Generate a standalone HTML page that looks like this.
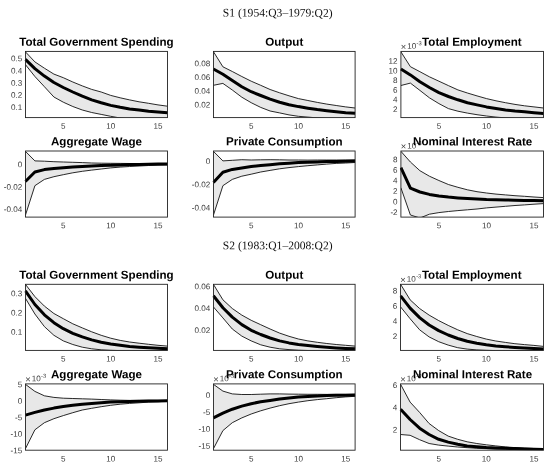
<!DOCTYPE html>
<html><head><meta charset="utf-8"><title>Impulse responses</title>
<style>
html,body{margin:0;padding:0;background:#fff;}
body{width:550px;height:468px;overflow:hidden;}
svg{display:block;}
.tt{font-family:"Liberation Sans",Arial,Helvetica,sans-serif;font-weight:bold;font-size:11.6px;fill:#000;text-anchor:middle;}
.tk{font-family:"Liberation Sans",Arial,Helvetica,sans-serif;font-size:8.1px;fill:#3a3a3a;}
.yl{text-anchor:end;}
.xl{text-anchor:middle;}
.st{font-family:"Liberation Serif","DejaVu Serif",serif;font-size:11.6px;fill:#111;text-anchor:middle;}
.bd{fill:#e8e8e8;stroke:none;}
.ln{fill:none;stroke:#111;stroke-width:0.9;stroke-linejoin:round;}
.md{fill:none;stroke:#000;stroke-width:3.0;stroke-linejoin:round;stroke-linecap:butt;}
.bx{fill:none;stroke:#222;stroke-width:0.9;}
</style></head><body>
<svg width="550" height="468" viewBox="0 0 550 468">
<rect x="0" y="0" width="550" height="468" fill="#fff"/>
<text class="st" transform="translate(277.7,16.6) rotate(0.05)">S1 (1954:Q3–1979:Q2)</text>
<text class="st" transform="translate(277.7,249.3) rotate(0.05)">S2 (1983:Q1–2008:Q2)</text>
<defs>
<clipPath id="c0"><rect x="25.45" y="51.4" width="142.05" height="66.2"/></clipPath>
<clipPath id="d0"><rect x="24.45" y="51.4" width="144.05" height="66.2"/></clipPath>
<clipPath id="c1"><rect x="213.45" y="51.4" width="141.65" height="66.2"/></clipPath>
<clipPath id="d1"><rect x="212.45" y="51.4" width="143.65" height="66.2"/></clipPath>
<clipPath id="c2"><rect x="400.9" y="51.4" width="142.6" height="66.2"/></clipPath>
<clipPath id="d2"><rect x="399.9" y="51.4" width="144.6" height="66.2"/></clipPath>
<clipPath id="c3"><rect x="25.45" y="151.0" width="142.05" height="66.1"/></clipPath>
<clipPath id="d3"><rect x="24.45" y="151.0" width="144.05" height="66.1"/></clipPath>
<clipPath id="c4"><rect x="213.45" y="151.0" width="141.65" height="66.1"/></clipPath>
<clipPath id="d4"><rect x="212.45" y="151.0" width="143.65" height="66.1"/></clipPath>
<clipPath id="c5"><rect x="400.9" y="151.0" width="142.6" height="66.1"/></clipPath>
<clipPath id="d5"><rect x="399.9" y="151.0" width="144.6" height="66.1"/></clipPath>
<clipPath id="c6"><rect x="25.45" y="284.3" width="142.05" height="66.1"/></clipPath>
<clipPath id="d6"><rect x="24.45" y="284.3" width="144.05" height="66.1"/></clipPath>
<clipPath id="c7"><rect x="213.45" y="284.3" width="141.65" height="66.1"/></clipPath>
<clipPath id="d7"><rect x="212.45" y="284.3" width="143.65" height="66.1"/></clipPath>
<clipPath id="c8"><rect x="400.55" y="284.3" width="142.9" height="66.1"/></clipPath>
<clipPath id="d8"><rect x="399.55" y="284.3" width="144.9" height="66.1"/></clipPath>
<clipPath id="c9"><rect x="25.45" y="383.9" width="142.05" height="66.3"/></clipPath>
<clipPath id="d9"><rect x="24.45" y="383.9" width="144.05" height="66.3"/></clipPath>
<clipPath id="c10"><rect x="213.45" y="383.9" width="141.65" height="66.3"/></clipPath>
<clipPath id="d10"><rect x="212.45" y="383.9" width="143.65" height="66.3"/></clipPath>
<clipPath id="c11"><rect x="400.55" y="383.9" width="142.9" height="66.3"/></clipPath>
<clipPath id="d11"><rect x="399.55" y="383.9" width="144.9" height="66.3"/></clipPath>
</defs>
<g clip-path="url(#c0)">
<polygon class="bd" points="25.4,51.8 34.9,61.9 44.4,68.2 53.9,74.1 63.3,77.7 72.8,82.0 82.3,85.9 91.7,89.4 101.2,92.0 110.7,95.4 120.2,97.8 129.6,99.9 139.1,101.8 148.6,103.3 158.0,104.9 167.5,106.2 167.5,119.5 158.0,119.5 148.6,119.5 139.1,119.5 129.6,119.0 120.2,118.0 110.7,116.3 101.2,114.4 91.7,112.5 82.3,110.0 72.8,106.5 63.3,102.2 53.9,97.0 44.4,86.7 34.9,76.5 25.4,64.6"/>
<polyline class="ln" points="25.4,51.8 34.9,61.9 44.4,68.2 53.9,74.1 63.3,77.7 72.8,82.0 82.3,85.9 91.7,89.4 101.2,92.0 110.7,95.4 120.2,97.8 129.6,99.9 139.1,101.8 148.6,103.3 158.0,104.9 167.5,106.2"/>
<polyline class="ln" points="25.4,64.6 34.9,76.5 44.4,86.7 53.9,97.0 63.3,102.2 72.8,106.5 82.3,110.0 91.7,112.5 101.2,114.4 110.7,116.3 120.2,118.0 129.6,119.0 139.1,119.5 148.6,119.5 158.0,119.5 167.5,119.5"/>
</g>
<g clip-path="url(#d0)"><polyline class="md" points="25.4,59.4 34.9,68.6 44.4,76.1 53.9,82.5 63.3,87.5 72.8,92.0 82.3,96.2 91.7,99.9 101.2,102.8 110.7,105.4 120.2,107.3 129.6,108.9 139.1,110.1 148.6,111.2 158.0,112.0 167.5,112.8"/></g>
<rect class="bx" x="25.45" y="51.4" width="142.05" height="66.2"/>
<text class="tt" transform="translate(96.48,45.80) rotate(0.05)">Total Government Spending</text>
<text class="tk xl" transform="translate(63.33,128.80) rotate(0.05)">5</text>
<text class="tk xl" transform="translate(110.68,128.80) rotate(0.05)">10</text>
<text class="tk xl" transform="translate(158.03,128.80) rotate(0.05)">15</text>
<text class="tk yl" transform="translate(22.15,61.25) rotate(0.05)">0.5</text>
<text class="tk yl" transform="translate(22.15,73.55) rotate(0.05)">0.4</text>
<text class="tk yl" transform="translate(22.15,85.65) rotate(0.05)">0.3</text>
<text class="tk yl" transform="translate(22.15,97.85) rotate(0.05)">0.2</text>
<text class="tk yl" transform="translate(22.15,110.05) rotate(0.05)">0.1</text>
<g clip-path="url(#c1)">
<polygon class="bd" points="213.4,51.6 222.9,66.8 232.3,71.5 241.8,76.5 251.2,81.2 260.7,85.3 270.1,89.5 279.6,92.8 289.0,95.8 298.4,98.6 307.9,100.5 317.3,102.4 326.8,104.1 336.2,105.5 345.7,106.9 355.1,108.0 355.1,119.0 345.7,119.0 336.2,118.7 326.8,118.5 317.3,117.9 307.9,117.1 298.4,116.3 289.0,114.9 279.6,112.9 270.1,111.0 260.7,107.4 251.2,102.7 241.8,97.2 232.3,90.0 222.9,83.4 213.4,85.3"/>
<polyline class="ln" points="213.4,51.6 222.9,66.8 232.3,71.5 241.8,76.5 251.2,81.2 260.7,85.3 270.1,89.5 279.6,92.8 289.0,95.8 298.4,98.6 307.9,100.5 317.3,102.4 326.8,104.1 336.2,105.5 345.7,106.9 355.1,108.0"/>
<polyline class="ln" points="213.4,85.3 222.9,83.4 232.3,90.0 241.8,97.2 251.2,102.7 260.7,107.4 270.1,111.0 279.6,112.9 289.0,114.9 298.4,116.3 307.9,117.1 317.3,117.9 326.8,118.5 336.2,118.7 345.7,119.0 355.1,119.0"/>
</g>
<g clip-path="url(#d1)"><polyline class="md" points="213.4,69.0 222.9,74.3 232.3,80.6 241.8,86.7 251.2,91.7 260.7,95.5 270.1,99.1 279.6,102.2 289.0,104.7 298.4,106.6 307.9,108.2 317.3,109.6 326.8,110.7 336.2,111.8 345.7,112.7 355.1,113.2"/></g>
<rect class="bx" x="213.45" y="51.4" width="141.65" height="66.2"/>
<text class="tt" transform="translate(284.27,45.80) rotate(0.05)">Output</text>
<text class="tk xl" transform="translate(251.22,128.80) rotate(0.05)">5</text>
<text class="tk xl" transform="translate(298.44,128.80) rotate(0.05)">10</text>
<text class="tk xl" transform="translate(345.66,128.80) rotate(0.05)">15</text>
<text class="tk yl" transform="translate(210.15,66.25) rotate(0.05)">0.08</text>
<text class="tk yl" transform="translate(210.15,80.05) rotate(0.05)">0.06</text>
<text class="tk yl" transform="translate(210.15,93.75) rotate(0.05)">0.04</text>
<text class="tk yl" transform="translate(210.15,107.55) rotate(0.05)">0.02</text>
<g clip-path="url(#c2)">
<polygon class="bd" points="400.9,51.8 410.4,66.7 419.9,71.7 429.4,76.8 438.9,81.2 448.4,85.6 457.9,89.9 467.4,93.0 477.0,95.9 486.5,98.6 496.0,100.8 505.5,102.7 515.0,104.4 524.5,105.8 534.0,106.9 543.5,108.0 543.5,119.0 534.0,119.0 524.5,118.7 515.0,118.5 505.5,117.9 496.0,117.1 486.5,116.0 477.0,114.7 467.4,113.1 457.9,111.2 448.4,108.6 438.9,103.6 429.4,97.8 419.9,90.4 410.4,83.1 400.9,85.5"/>
<polyline class="ln" points="400.9,51.8 410.4,66.7 419.9,71.7 429.4,76.8 438.9,81.2 448.4,85.6 457.9,89.9 467.4,93.0 477.0,95.9 486.5,98.6 496.0,100.8 505.5,102.7 515.0,104.4 524.5,105.8 534.0,106.9 543.5,108.0"/>
<polyline class="ln" points="400.9,85.5 410.4,83.1 419.9,90.4 429.4,97.8 438.9,103.6 448.4,108.6 457.9,111.2 467.4,113.1 477.0,114.7 486.5,116.0 496.0,117.1 505.5,117.9 515.0,118.5 524.5,118.7 534.0,119.0 543.5,119.0"/>
</g>
<g clip-path="url(#d2)"><polyline class="md" points="400.9,69.0 410.4,74.9 419.9,81.7 429.4,87.5 438.9,92.6 448.4,96.5 457.9,99.8 467.4,102.7 477.0,104.9 486.5,106.9 496.0,108.5 505.5,109.9 515.0,111.0 524.5,111.8 534.0,112.7 543.5,113.5"/></g>
<rect class="bx" x="400.9" y="51.4" width="142.6" height="66.2"/>
<text class="tk" style="font-size:9.4px" transform="translate(400.70,50.00) rotate(0.05)">×</text>
<text class="tk" transform="translate(407.20,48.80) rotate(0.05)">10<tspan dy="-3.5" dx="0.3" font-size="5.7">-3</tspan></text>
<text class="tt" transform="translate(471.90,45.80) rotate(0.05)">Total Employment</text>
<text class="tk xl" transform="translate(438.93,128.80) rotate(0.05)">5</text>
<text class="tk xl" transform="translate(486.46,128.80) rotate(0.05)">10</text>
<text class="tk xl" transform="translate(533.99,128.80) rotate(0.05)">15</text>
<text class="tk yl" transform="translate(397.60,63.75) rotate(0.05)">12</text>
<text class="tk yl" transform="translate(397.60,73.45) rotate(0.05)">10</text>
<text class="tk yl" transform="translate(397.60,83.05) rotate(0.05)">8</text>
<text class="tk yl" transform="translate(397.60,92.75) rotate(0.05)">6</text>
<text class="tk yl" transform="translate(397.60,102.35) rotate(0.05)">4</text>
<text class="tk yl" transform="translate(397.60,111.95) rotate(0.05)">2</text>
<g clip-path="url(#c3)">
<polygon class="bd" points="25.4,151.3 34.9,160.9 44.4,161.2 53.9,161.7 63.3,162.0 72.8,162.3 82.3,162.6 91.7,163.0 101.2,163.2 110.7,163.3 120.2,163.4 129.6,163.5 139.1,163.6 148.6,163.6 158.0,163.7 167.5,163.7 167.5,164.9 158.0,165.2 148.6,165.5 139.1,166.0 129.6,166.5 120.2,167.1 110.7,167.9 101.2,169.0 91.7,170.1 82.3,171.3 72.8,172.8 63.3,174.7 53.9,176.7 44.4,179.4 34.9,185.7 25.4,215.3"/>
<polyline class="ln" points="25.4,151.3 34.9,160.9 44.4,161.2 53.9,161.7 63.3,162.0 72.8,162.3 82.3,162.6 91.7,163.0 101.2,163.2 110.7,163.3 120.2,163.4 129.6,163.5 139.1,163.6 148.6,163.6 158.0,163.7 167.5,163.7"/>
<polyline class="ln" points="25.4,215.3 34.9,185.7 44.4,179.4 53.9,176.7 63.3,174.7 72.8,172.8 82.3,171.3 91.7,170.1 101.2,169.0 110.7,167.9 120.2,167.1 129.6,166.5 139.1,166.0 148.6,165.5 158.0,165.2 167.5,164.9"/>
</g>
<g clip-path="url(#d3)"><polyline class="md" points="25.4,181.5 34.9,172.0 44.4,169.6 53.9,168.5 63.3,167.7 72.8,167.1 82.3,166.5 91.7,166.0 101.2,165.6 110.7,165.2 120.2,164.9 129.6,164.6 139.1,164.4 148.6,164.2 158.0,164.1 167.5,164.1"/></g>
<rect class="bx" x="25.45" y="151.0" width="142.05" height="66.1"/>
<text class="tt" transform="translate(96.48,145.40) rotate(0.05)">Aggregate Wage</text>
<text class="tk xl" transform="translate(63.33,228.30) rotate(0.05)">5</text>
<text class="tk xl" transform="translate(110.68,228.30) rotate(0.05)">10</text>
<text class="tk xl" transform="translate(158.03,228.30) rotate(0.05)">15</text>
<text class="tk yl" transform="translate(22.15,167.35) rotate(0.05)">0</text>
<text class="tk yl" transform="translate(22.15,189.65) rotate(0.05)">-0.02</text>
<text class="tk yl" transform="translate(22.15,211.95) rotate(0.05)">-0.04</text>
<g clip-path="url(#c4)">
<polygon class="bd" points="213.4,151.3 222.9,160.9 232.3,160.3 241.8,159.7 251.2,160.0 260.7,159.8 270.1,159.7 279.6,159.8 289.0,160.0 298.4,160.0 307.9,160.1 317.3,160.0 326.8,160.0 336.2,160.0 345.7,160.0 355.1,160.0 355.1,162.5 345.7,163.0 336.2,163.4 326.8,164.1 317.3,164.9 307.9,165.7 298.4,166.6 289.0,167.6 279.6,168.8 270.1,170.4 260.7,172.0 251.2,174.2 241.8,176.2 232.3,179.4 222.9,185.7 213.4,215.3"/>
<polyline class="ln" points="213.4,151.3 222.9,160.9 232.3,160.3 241.8,159.7 251.2,160.0 260.7,159.8 270.1,159.7 279.6,159.8 289.0,160.0 298.4,160.0 307.9,160.1 317.3,160.0 326.8,160.0 336.2,160.0 345.7,160.0 355.1,160.0"/>
<polyline class="ln" points="213.4,215.3 222.9,185.7 232.3,179.4 241.8,176.2 251.2,174.2 260.7,172.0 270.1,170.4 279.6,168.8 289.0,167.6 298.4,166.6 307.9,165.7 317.3,164.9 326.8,164.1 336.2,163.4 345.7,163.0 355.1,162.5"/>
</g>
<g clip-path="url(#d4)"><polyline class="md" points="213.4,182.6 222.9,172.3 232.3,169.4 241.8,167.9 251.2,166.6 260.7,165.5 270.1,164.7 279.6,163.8 289.0,163.2 298.4,162.6 307.9,162.3 317.3,161.9 326.8,161.6 336.2,161.4 345.7,161.2 355.1,161.1"/></g>
<rect class="bx" x="213.45" y="151.0" width="141.65" height="66.1"/>
<text class="tt" transform="translate(284.27,145.40) rotate(0.05)">Private Consumption</text>
<text class="tk xl" transform="translate(251.22,228.30) rotate(0.05)">5</text>
<text class="tk xl" transform="translate(298.44,228.30) rotate(0.05)">10</text>
<text class="tk xl" transform="translate(345.66,228.30) rotate(0.05)">15</text>
<text class="tk yl" transform="translate(210.15,164.05) rotate(0.05)">0</text>
<text class="tk yl" transform="translate(210.15,187.25) rotate(0.05)">-0.02</text>
<text class="tk yl" transform="translate(210.15,210.45) rotate(0.05)">-0.04</text>
<g clip-path="url(#c5)">
<polygon class="bd" points="400.9,151.3 410.4,162.0 419.9,170.7 429.4,176.2 438.9,180.5 448.4,184.5 457.9,187.3 467.4,189.8 477.0,191.7 486.5,193.0 496.0,194.1 505.5,194.9 515.0,195.7 524.5,196.3 534.0,197.0 543.5,197.6 543.5,203.6 534.0,204.2 524.5,204.9 515.0,205.5 505.5,206.3 496.0,207.1 486.5,207.9 477.0,209.0 467.4,209.8 457.9,210.6 448.4,211.5 438.9,212.6 429.4,214.2 419.9,218.0 410.4,215.0 400.9,187.8"/>
<polyline class="ln" points="400.9,151.3 410.4,162.0 419.9,170.7 429.4,176.2 438.9,180.5 448.4,184.5 457.9,187.3 467.4,189.8 477.0,191.7 486.5,193.0 496.0,194.1 505.5,194.9 515.0,195.7 524.5,196.3 534.0,197.0 543.5,197.6"/>
<polyline class="ln" points="400.9,187.8 410.4,215.0 419.9,218.0 429.4,214.2 438.9,212.6 448.4,211.5 457.9,210.6 467.4,209.8 477.0,209.0 486.5,207.9 496.0,207.1 505.5,206.3 515.0,205.5 524.5,204.9 534.0,204.2 543.5,203.6"/>
</g>
<g clip-path="url(#d5)"><polyline class="md" points="400.9,167.6 410.4,188.1 419.9,192.0 429.4,194.4 438.9,196.0 448.4,197.1 457.9,197.9 467.4,198.5 477.0,199.0 486.5,199.5 496.0,199.7 505.5,200.0 515.0,200.2 524.5,200.4 534.0,200.6 543.5,200.8"/></g>
<rect class="bx" x="400.9" y="151.0" width="142.6" height="66.1"/>
<text class="tk" style="font-size:9.4px" transform="translate(400.70,149.60) rotate(0.05)">×</text>
<text class="tk" transform="translate(407.20,148.40) rotate(0.05)">10<tspan dy="-3.5" dx="0.3" font-size="5.7">-3</tspan></text>
<text class="tt" transform="translate(472.70,145.40) rotate(0.05)">Nominal Interest Rate</text>
<text class="tk xl" transform="translate(438.93,228.30) rotate(0.05)">5</text>
<text class="tk xl" transform="translate(486.46,228.30) rotate(0.05)">10</text>
<text class="tk xl" transform="translate(533.99,228.30) rotate(0.05)">15</text>
<text class="tk yl" transform="translate(397.60,162.15) rotate(0.05)">8</text>
<text class="tk yl" transform="translate(397.60,172.75) rotate(0.05)">6</text>
<text class="tk yl" transform="translate(397.60,183.35) rotate(0.05)">4</text>
<text class="tk yl" transform="translate(397.60,193.85) rotate(0.05)">2</text>
<text class="tk yl" transform="translate(397.60,204.45) rotate(0.05)">0</text>
<text class="tk yl" transform="translate(397.60,215.05) rotate(0.05)">-2</text>
<g clip-path="url(#c6)">
<polygon class="bd" points="25.4,284.3 34.9,296.6 44.4,306.1 53.9,313.5 63.3,318.7 72.8,323.8 82.3,327.9 91.7,331.8 101.2,335.3 110.7,338.2 120.2,340.4 129.6,342.0 139.1,343.2 148.6,344.3 158.0,345.3 167.5,346.1 167.5,350.2 158.0,350.5 148.6,350.6 139.1,350.7 129.6,350.7 120.2,350.6 110.7,350.3 101.2,349.8 91.7,348.8 82.3,347.2 72.8,344.5 63.3,340.9 53.9,335.3 44.4,326.6 34.9,314.0 25.4,298.2"/>
<polyline class="ln" points="25.4,284.3 34.9,296.6 44.4,306.1 53.9,313.5 63.3,318.7 72.8,323.8 82.3,327.9 91.7,331.8 101.2,335.3 110.7,338.2 120.2,340.4 129.6,342.0 139.1,343.2 148.6,344.3 158.0,345.3 167.5,346.1"/>
<polyline class="ln" points="25.4,298.2 34.9,314.0 44.4,326.6 53.9,335.3 63.3,340.9 72.8,344.5 82.3,347.2 91.7,348.8 101.2,349.8 110.7,350.3 120.2,350.6 129.6,350.7 139.1,350.7 148.6,350.6 158.0,350.5 167.5,350.2"/>
</g>
<g clip-path="url(#d6)"><polyline class="md" points="25.4,290.8 34.9,304.5 44.4,314.8 53.9,322.7 63.3,328.7 72.8,333.3 82.3,336.9 91.7,339.9 101.2,342.3 110.7,344.0 120.2,345.3 129.6,346.4 139.1,347.2 148.6,347.8 158.0,348.3 167.5,348.8"/></g>
<rect class="bx" x="25.45" y="284.3" width="142.05" height="66.1"/>
<text class="tt" transform="translate(96.48,278.70) rotate(0.05)">Total Government Spending</text>
<text class="tk xl" transform="translate(63.33,361.60) rotate(0.05)">5</text>
<text class="tk xl" transform="translate(110.68,361.60) rotate(0.05)">10</text>
<text class="tk xl" transform="translate(158.03,361.60) rotate(0.05)">15</text>
<text class="tk yl" transform="translate(22.15,296.35) rotate(0.05)">0.3</text>
<text class="tk yl" transform="translate(22.15,315.45) rotate(0.05)">0.2</text>
<text class="tk yl" transform="translate(22.15,334.85) rotate(0.05)">0.1</text>
<g clip-path="url(#c7)">
<polygon class="bd" points="213.4,284.3 222.9,299.8 232.3,308.5 241.8,315.1 251.2,320.3 260.7,324.7 270.1,329.0 279.6,333.1 289.0,336.3 298.4,339.0 307.9,340.9 317.3,342.3 326.8,343.5 336.2,344.5 345.7,345.3 355.1,346.1 355.1,350.2 345.7,350.5 336.2,350.6 326.8,350.6 317.3,350.6 307.9,350.5 298.4,350.2 289.0,349.6 279.6,348.8 270.1,347.2 260.7,344.8 251.2,340.9 241.8,336.1 232.3,329.0 222.9,317.9 213.4,306.9"/>
<polyline class="ln" points="213.4,284.3 222.9,299.8 232.3,308.5 241.8,315.1 251.2,320.3 260.7,324.7 270.1,329.0 279.6,333.1 289.0,336.3 298.4,339.0 307.9,340.9 317.3,342.3 326.8,343.5 336.2,344.5 345.7,345.3 355.1,346.1"/>
<polyline class="ln" points="213.4,306.9 222.9,317.9 232.3,329.0 241.8,336.1 251.2,340.9 260.7,344.8 270.1,347.2 279.6,348.8 289.0,349.6 298.4,350.2 307.9,350.5 317.3,350.6 326.8,350.6 336.2,350.6 345.7,350.5 355.1,350.2"/>
</g>
<g clip-path="url(#d7)"><polyline class="md" points="213.4,295.8 222.9,307.7 232.3,317.1 241.8,324.6 251.2,330.3 260.7,334.5 270.1,338.0 279.6,340.9 289.0,342.9 298.4,344.5 307.9,345.6 317.3,346.5 326.8,347.3 336.2,348.0 345.7,348.5 355.1,348.8"/></g>
<rect class="bx" x="213.45" y="284.3" width="141.65" height="66.1"/>
<text class="tt" transform="translate(284.27,278.70) rotate(0.05)">Output</text>
<text class="tk xl" transform="translate(251.22,361.60) rotate(0.05)">5</text>
<text class="tk xl" transform="translate(298.44,361.60) rotate(0.05)">10</text>
<text class="tk xl" transform="translate(345.66,361.60) rotate(0.05)">15</text>
<text class="tk yl" transform="translate(210.15,289.25) rotate(0.05)">0.06</text>
<text class="tk yl" transform="translate(210.15,311.05) rotate(0.05)">0.04</text>
<text class="tk yl" transform="translate(210.15,332.95) rotate(0.05)">0.02</text>
<g clip-path="url(#c8)">
<polygon class="bd" points="400.6,284.3 410.1,299.8 419.6,308.5 429.1,315.1 438.7,320.6 448.2,325.4 457.7,329.8 467.2,333.6 476.8,336.5 486.3,339.1 495.8,341.0 505.3,342.4 514.9,343.7 524.4,344.6 533.9,345.4 543.5,346.4 543.5,350.2 533.9,350.5 524.4,350.6 514.9,350.7 505.3,350.7 495.8,350.6 486.3,350.3 476.8,349.9 467.2,349.1 457.7,347.7 448.2,345.1 438.7,341.7 429.1,336.9 419.6,329.8 410.1,318.7 400.6,306.9"/>
<polyline class="ln" points="400.6,284.3 410.1,299.8 419.6,308.5 429.1,315.1 438.7,320.6 448.2,325.4 457.7,329.8 467.2,333.6 476.8,336.5 486.3,339.1 495.8,341.0 505.3,342.4 514.9,343.7 524.4,344.6 533.9,345.4 543.5,346.4"/>
<polyline class="ln" points="400.6,306.9 410.1,318.7 419.6,329.8 429.1,336.9 438.7,341.7 448.2,345.1 457.7,347.7 467.2,349.1 476.8,349.9 486.3,350.3 495.8,350.6 505.3,350.7 514.9,350.7 524.4,350.6 533.9,350.5 543.5,350.2"/>
</g>
<g clip-path="url(#d8)"><polyline class="md" points="400.6,295.8 410.1,308.1 419.6,317.6 429.1,325.0 438.7,330.6 448.2,335.0 457.7,338.5 467.2,341.3 476.8,343.2 486.3,344.8 495.8,345.9 505.3,346.7 514.9,347.5 524.4,348.1 533.9,348.6 543.5,348.9"/></g>
<rect class="bx" x="400.55" y="284.3" width="142.9" height="66.1"/>
<text class="tk" style="font-size:9.4px" transform="translate(400.35,282.90) rotate(0.05)">×</text>
<text class="tk" transform="translate(406.85,281.70) rotate(0.05)">10<tspan dy="-3.5" dx="0.3" font-size="5.7">-3</tspan></text>
<text class="tt" transform="translate(471.70,278.70) rotate(0.05)">Total Employment</text>
<text class="tk xl" transform="translate(438.66,361.60) rotate(0.05)">5</text>
<text class="tk xl" transform="translate(486.29,361.60) rotate(0.05)">10</text>
<text class="tk xl" transform="translate(533.92,361.60) rotate(0.05)">15</text>
<text class="tk yl" transform="translate(397.25,293.45) rotate(0.05)">8</text>
<text class="tk yl" transform="translate(397.25,308.65) rotate(0.05)">6</text>
<text class="tk yl" transform="translate(397.25,323.85) rotate(0.05)">4</text>
<text class="tk yl" transform="translate(397.25,339.05) rotate(0.05)">2</text>
<g clip-path="url(#c9)">
<polygon class="bd" points="25.4,384.3 34.9,391.4 44.4,395.8 53.9,397.4 63.3,398.2 72.8,398.5 82.3,398.8 91.7,399.1 101.2,399.5 110.7,399.9 120.2,400.2 129.6,400.4 139.1,400.4 148.6,400.4 158.0,400.4 167.5,400.4 167.5,401.2 158.0,401.7 148.6,402.1 139.1,402.8 129.6,403.4 120.2,404.2 110.7,405.3 101.2,406.7 91.7,408.3 82.3,410.0 72.8,412.7 63.3,415.6 53.9,418.7 44.4,422.7 34.9,429.8 25.4,448.8"/>
<polyline class="ln" points="25.4,384.3 34.9,391.4 44.4,395.8 53.9,397.4 63.3,398.2 72.8,398.5 82.3,398.8 91.7,399.1 101.2,399.5 110.7,399.9 120.2,400.2 129.6,400.4 139.1,400.4 148.6,400.4 158.0,400.4 167.5,400.4"/>
<polyline class="ln" points="25.4,448.8 34.9,429.8 44.4,422.7 53.9,418.7 63.3,415.6 72.8,412.7 82.3,410.0 91.7,408.3 101.2,406.7 110.7,405.3 120.2,404.2 129.6,403.4 139.1,402.8 148.6,402.1 158.0,401.7 167.5,401.2"/>
</g>
<g clip-path="url(#d9)"><polyline class="md" points="25.4,415.1 34.9,412.4 44.4,410.0 53.9,408.1 63.3,406.6 72.8,405.3 82.3,404.2 91.7,403.4 101.2,402.8 110.7,402.1 120.2,401.8 129.6,401.5 139.1,401.3 148.6,401.0 158.0,400.9 167.5,400.7"/></g>
<rect class="bx" x="25.45" y="383.9" width="142.05" height="66.3"/>
<text class="tk" style="font-size:9.4px" transform="translate(25.25,382.50) rotate(0.05)">×</text>
<text class="tk" transform="translate(31.75,381.30) rotate(0.05)">10<tspan dy="-3.5" dx="0.3" font-size="5.7">-3</tspan></text>
<text class="tt" transform="translate(96.48,378.30) rotate(0.05)">Aggregate Wage</text>
<text class="tk xl" transform="translate(63.33,461.40) rotate(0.05)">5</text>
<text class="tk xl" transform="translate(110.68,461.40) rotate(0.05)">10</text>
<text class="tk xl" transform="translate(158.03,461.40) rotate(0.05)">15</text>
<text class="tk yl" transform="translate(22.15,387.25) rotate(0.05)">5</text>
<text class="tk yl" transform="translate(22.15,403.75) rotate(0.05)">0</text>
<text class="tk yl" transform="translate(22.15,420.25) rotate(0.05)">-5</text>
<text class="tk yl" transform="translate(22.15,436.75) rotate(0.05)">-10</text>
<text class="tk yl" transform="translate(22.15,453.15) rotate(0.05)">-15</text>
<g clip-path="url(#c10)">
<polygon class="bd" points="213.4,384.3 222.9,391.1 232.3,393.9 241.8,394.5 251.2,394.5 260.7,394.2 270.1,393.9 279.6,393.9 289.0,394.1 298.4,394.2 307.9,394.3 317.3,394.3 326.8,394.4 336.2,394.4 345.7,394.4 355.1,394.4 355.1,396.3 345.7,396.9 336.2,397.7 326.8,398.7 317.3,399.6 307.9,400.7 298.4,402.1 289.0,403.7 279.6,405.7 270.1,408.1 260.7,410.8 251.2,414.0 241.8,417.9 232.3,422.7 222.9,430.6 213.4,448.8"/>
<polyline class="ln" points="213.4,384.3 222.9,391.1 232.3,393.9 241.8,394.5 251.2,394.5 260.7,394.2 270.1,393.9 279.6,393.9 289.0,394.1 298.4,394.2 307.9,394.3 317.3,394.3 326.8,394.4 336.2,394.4 345.7,394.4 355.1,394.4"/>
<polyline class="ln" points="213.4,448.8 222.9,430.6 232.3,422.7 241.8,417.9 251.2,414.0 260.7,410.8 270.1,408.1 279.6,405.7 289.0,403.7 298.4,402.1 307.9,400.7 317.3,399.6 326.8,398.7 336.2,397.7 345.7,396.9 355.1,396.3"/>
</g>
<g clip-path="url(#d10)"><polyline class="md" points="213.4,417.9 222.9,413.2 232.3,409.2 241.8,406.1 251.2,403.7 260.7,401.8 270.1,400.4 279.6,399.0 289.0,398.0 298.4,397.1 307.9,396.4 317.3,396.0 326.8,395.6 336.2,395.3 345.7,395.2 355.1,395.0"/></g>
<rect class="bx" x="213.45" y="383.9" width="141.65" height="66.3"/>
<text class="tk" style="font-size:9.4px" transform="translate(213.25,382.50) rotate(0.05)">×</text>
<text class="tk" transform="translate(219.75,381.30) rotate(0.05)">10<tspan dy="-3.5" dx="0.3" font-size="5.7">-3</tspan></text>
<text class="tt" transform="translate(284.27,378.30) rotate(0.05)">Private Consumption</text>
<text class="tk xl" transform="translate(251.22,461.40) rotate(0.05)">5</text>
<text class="tk xl" transform="translate(298.44,461.40) rotate(0.05)">10</text>
<text class="tk xl" transform="translate(345.66,461.40) rotate(0.05)">15</text>
<text class="tk yl" transform="translate(210.15,397.95) rotate(0.05)">0</text>
<text class="tk yl" transform="translate(210.15,414.95) rotate(0.05)">-5</text>
<text class="tk yl" transform="translate(210.15,431.85) rotate(0.05)">-10</text>
<text class="tk yl" transform="translate(210.15,448.85) rotate(0.05)">-15</text>
<g clip-path="url(#c11)">
<polygon class="bd" points="400.6,384.3 410.1,402.1 419.6,412.4 429.1,423.5 438.7,430.6 448.2,436.1 457.7,439.3 467.2,441.8 476.8,443.5 486.3,444.8 495.8,445.9 505.3,446.9 514.9,447.6 524.4,448.1 533.9,448.5 543.5,449.0 543.5,449.8 533.9,449.6 524.4,449.5 514.9,449.4 505.3,449.2 495.8,449.0 486.3,448.7 476.8,448.3 467.2,447.7 457.7,447.0 448.2,446.1 438.7,445.1 429.1,443.5 419.6,439.7 410.1,435.3 400.6,434.5"/>
<polyline class="ln" points="400.6,384.3 410.1,402.1 419.6,412.4 429.1,423.5 438.7,430.6 448.2,436.1 457.7,439.3 467.2,441.8 476.8,443.5 486.3,444.8 495.8,445.9 505.3,446.9 514.9,447.6 524.4,448.1 533.9,448.5 543.5,449.0"/>
<polyline class="ln" points="400.6,434.5 410.1,435.3 419.6,439.7 429.1,443.5 438.7,445.1 448.2,446.1 457.7,447.0 467.2,447.7 476.8,448.3 486.3,448.7 495.8,449.0 505.3,449.2 514.9,449.4 524.4,449.5 533.9,449.6 543.5,449.8"/>
</g>
<g clip-path="url(#d11)"><polyline class="md" points="400.6,409.2 410.1,419.5 419.6,428.2 429.1,434.5 438.7,439.3 448.2,442.1 457.7,444.3 467.2,445.9 476.8,446.8 486.3,447.5 495.8,447.9 505.3,448.3 514.9,448.6 524.4,448.9 533.9,449.2 543.5,449.4"/></g>
<rect class="bx" x="400.55" y="383.9" width="142.9" height="66.3"/>
<text class="tk" style="font-size:9.4px" transform="translate(400.35,382.50) rotate(0.05)">×</text>
<text class="tk" transform="translate(406.85,381.30) rotate(0.05)">10<tspan dy="-3.5" dx="0.3" font-size="5.7">-3</tspan></text>
<text class="tt" transform="translate(472.50,378.30) rotate(0.05)">Nominal Interest Rate</text>
<text class="tk xl" transform="translate(438.66,461.40) rotate(0.05)">5</text>
<text class="tk xl" transform="translate(486.29,461.40) rotate(0.05)">10</text>
<text class="tk xl" transform="translate(533.92,461.40) rotate(0.05)">15</text>
<text class="tk yl" transform="translate(397.25,387.95) rotate(0.05)">6</text>
<text class="tk yl" transform="translate(397.25,410.25) rotate(0.05)">4</text>
<text class="tk yl" transform="translate(397.25,432.45) rotate(0.05)">2</text>
</svg></body></html>
